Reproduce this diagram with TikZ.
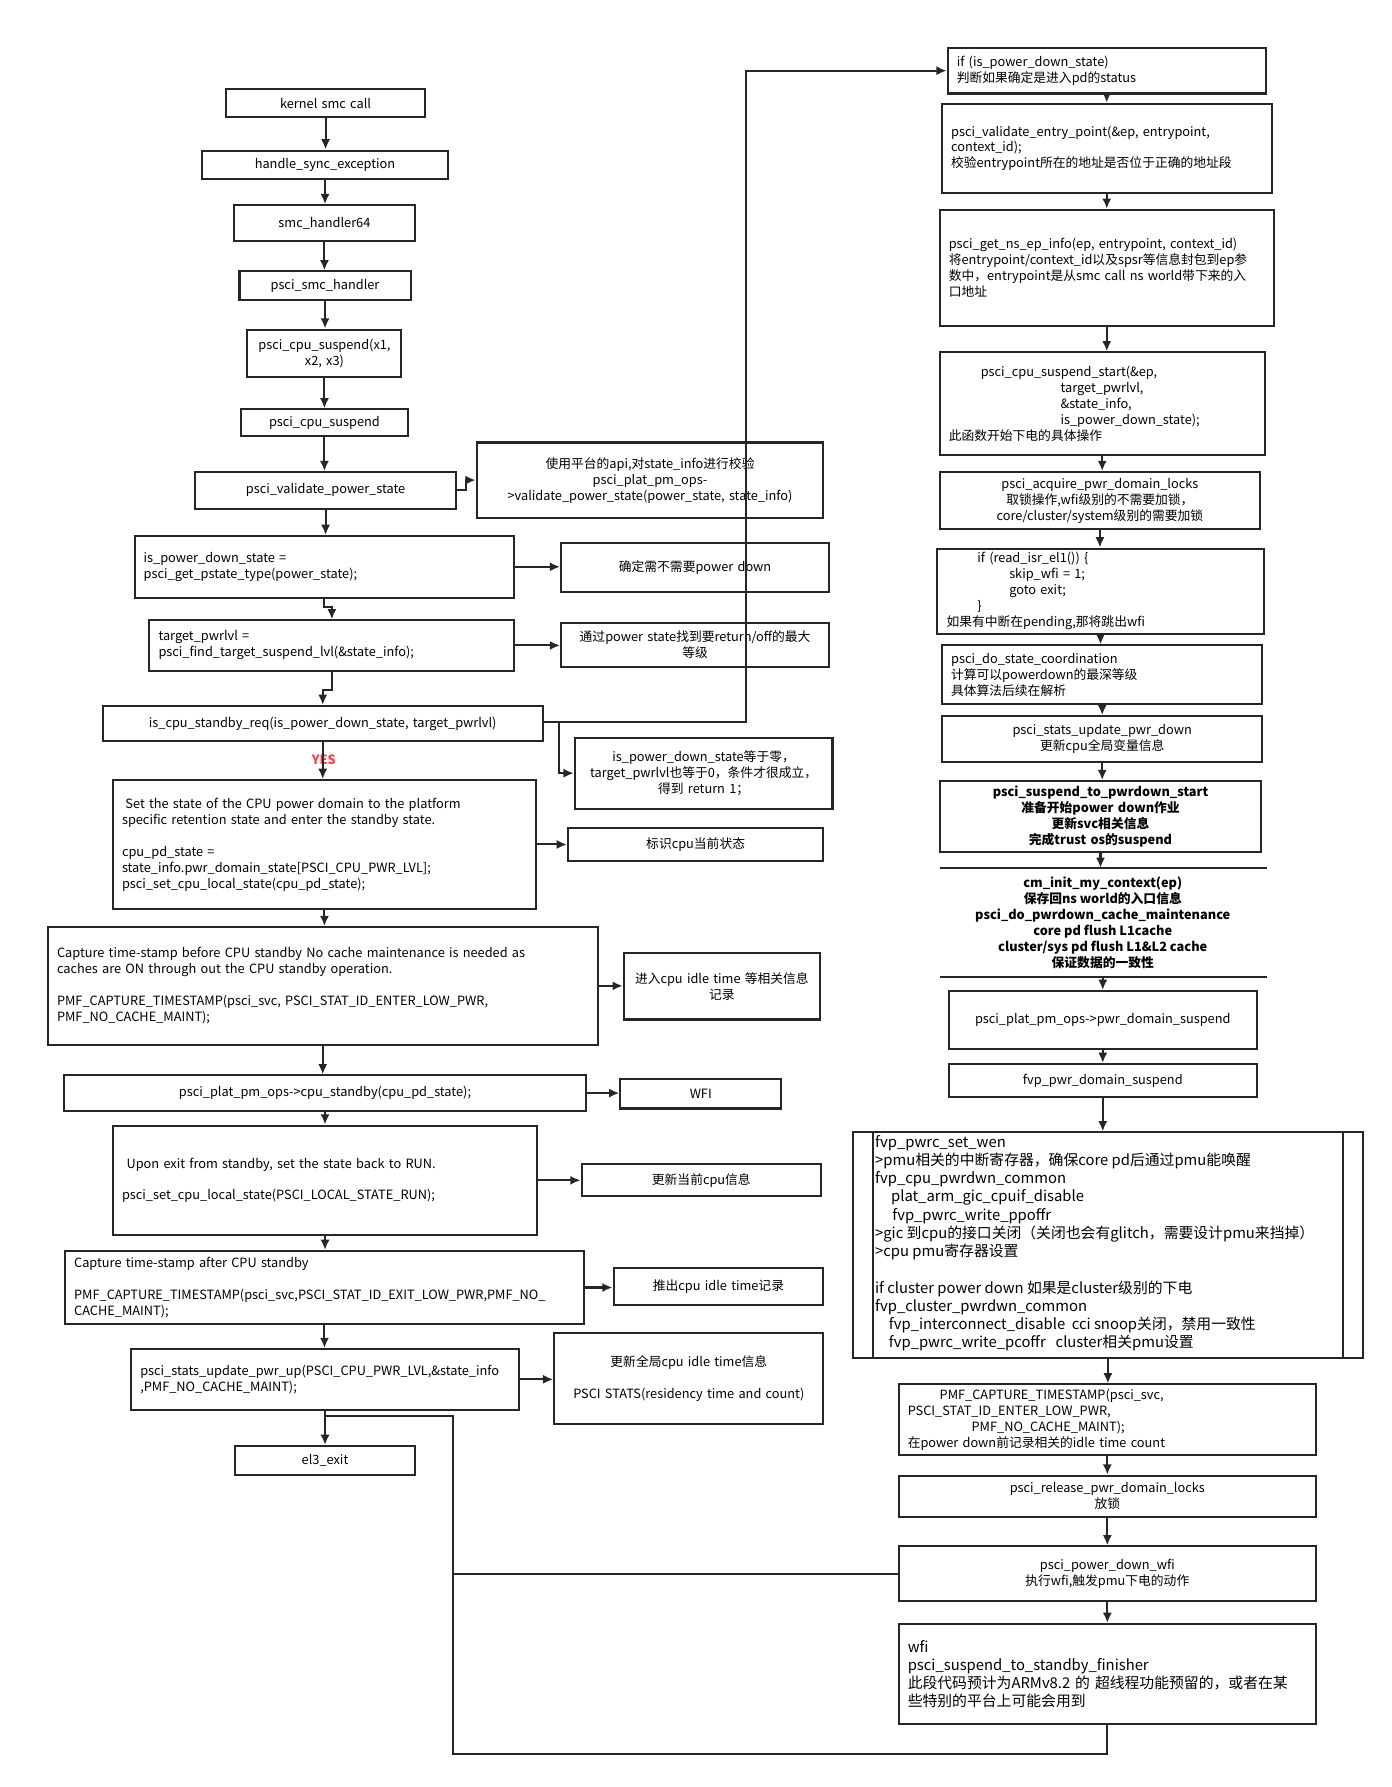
\documentclass[tikz,border=0pt]{standalone}
\usepackage{fontspec}
\setmainfont{Noto Sans CJK SC}
\usetikzlibrary{arrows.meta,calc}
\catcode`\_=12
\tikzset{
 box/.style={draw=black!85,line width=0.9pt,rectangle,inner xsep=4pt,inner ysep=1pt,font=\fontsize{5.6pt}{7pt}\selectfont},
 arr/.style={draw=black!85,line width=0.9pt,-{Latex[length=4.5pt,width=4pt]}},
 ln/.style={draw=black!85,line width=0.9pt},
}
\newcommand\mybox[7][center]{%
 \pgfmathsetmacro\tw{(#5-#3)*0.5-8}\pgfmathsetmacro\mh{(#6-#4)*0.5}\pgfmathsetmacro\mw{(#5-#3)*0.5}%
 \node[box,align=#1,text width=\tw pt,minimum height=\mh pt,minimum width=\mw pt] (#2) at ({(#3+#5)/2},{(#4+#6)/2}) {#7};}
\begin{document}
\begin{tikzpicture}[x=0.5pt,y=-0.5pt]
\useasboundingbox (0,0) rectangle (1220,1567);
% left column
\mybox{k1}{198}{78}{373}{103}{kernel smc call}
\mybox{k2}{177}{132}{393}{157}{handle_sync_exception}
\mybox{k3}{205}{180}{364}{211}{smc_handler64}
\mybox{k4}{210}{238}{360}{263}{psci_smc_handler}
\mybox{k5}{217}{289}{352}{331}{psci_cpu_suspend(x1,\\ x2, x3)}
\mybox{k6}{211}{359}{358}{382}{psci_cpu_suspend}
\mybox{k7}{171}{414}{400}{446}{psci_validate_power_state}
\mybox{s7}{418}{388}{722}{454}{使用平台的api,对state_info进行校验\\psci_plat_pm_ops-\\>validate_power_state(power_state, state_info)}
\mybox[left]{k9}{118}{470}{451}{524}{is_power_down_state =\\psci_get_pstate_type(power_state);}
\mybox{s9}{492}{476}{727}{519}{确定需不需要power down}
\mybox[left]{k10}{131}{544}{451}{588}{target_pwrlvl =\\psci_find_target_suspend_lvl(\&state_info);}
\mybox{s10}{492}{546}{727}{585}{通过power state找到要return/off的最大\\等级}
\mybox{k11}{90}{619}{476}{650}{is_cpu_standby_req(is_power_down_state, target_pwrlvl)}
\mybox{s11}{504}{647}{730}{709}{is_power_down_state等于零，\\target_pwrlvl也等于0，条件才很成立，\\得到 return 1；}
\node[text=red!75,font=\bfseries\fontsize{5.6pt}{7pt}\selectfont] (yes) at (284,666) {YES};
\mybox[left]{k12}{99}{684}{470}{797}{\hspace*{1.5pt}Set the state of the CPU power domain to the platform\\specific retention state and enter the standby state.\\[7pt]cpu_pd_state =\\state_info.pwr_domain_state[PSCI_CPU_PWR_LVL];\\psci_set_cpu_local_state(cpu_pd_state);}
\mybox{s12}{498}{726}{722}{755}{标识cpu当前状态}
\mybox[left]{k13}{42}{813}{524}{916}{Capture time-stamp before CPU standby No cache maintenance is needed as\\caches are ON through out the CPU standby operation.\\[7pt]PMF_CAPTURE_TIMESTAMP(psci_svc, PSCI_STAT_ID_ENTER_LOW_PWR,\\PMF_NO_CACHE_MAINT);}
\mybox{s13}{547}{836}{719}{894}{进入cpu idle time 等相关信息\\记录}
\mybox{k14}{56}{943}{514}{974}{psci_plat_pm_ops->cpu_standby(cpu_pd_state);}
\mybox{s14}{544}{946}{685}{972}{WFI}
\mybox[left]{k15}{99}{987}{471}{1083}{\hspace*{2pt}Upon exit from standby, set the state back to RUN.\\[7pt]psci_set_cpu_local_state(PSCI_LOCAL_STATE_RUN);}
\mybox{s15}{510}{1021}{720}{1049}{更新当前cpu信息}
\mybox[left]{k16}{57}{1097}{512}{1161}{Capture time-stamp after CPU standby\\[7pt]PMF_CAPTURE_TIMESTAMP(psci_svc,PSCI_STAT_ID_EXIT_LOW_PWR,PMF_NO_\\CACHE_MAINT);}
\mybox{s16}{538}{1112}{722}{1144}{推出cpu idle time记录}
\mybox[left]{k17}{115}{1183}{455}{1236}{psci_stats_update_pwr_up(PSCI_CPU_PWR_LVL,\&state_info\\,PMF_NO_CACHE_MAINT);}
\mybox{s17}{486}{1169}{722}{1249}{更新全局cpu idle time信息\\[7pt]PSCI STATS(residency time and count)}
\mybox{k18}{206}{1268}{364}{1293}{el3_exit}
% right column
\mybox[left]{r1}{831}{42}{1110}{82}{if (is_power_down_state)\\判断如果确定是进入pd的status}
\mybox[left]{r2}{826}{91}{1115}{169}{psci_validate_entry_point(\&ep, entrypoint,\\context_id);\\校验entrypoint所在的地址是否位于正确的地址段\\[14pt]}
\mybox[left]{r3}{824}{184}{1117}{286}{psci_get_ns_ep_info(ep, entrypoint, context_id)\\将entrypoint/context_id以及spsr等信息封包到ep参\\数中，entrypoint是从smc call ns world带下来的入\\口地址\\[35pt]}
\mybox[left]{r4}{824}{309}{1109}{399}{\hspace*{14pt}psci_cpu_suspend_start(\&ep,\\\hspace*{49pt}target_pwrlvl,\\\hspace*{49pt}\&state_info,\\\hspace*{49pt}is_power_down_state);\\此函数开始下电的具体操作\\[6pt]}
\mybox{r5}{824}{414}{1105}{464}{psci_acquire_pwr_domain_locks\\取锁操作,wfi级别的不需要加锁，\\core/cluster/system级别的需要加锁}
\mybox[left]{r6}{822}{481}{1108}{556}{\hspace*{13.5pt}if (read_isr_el1()) \{\\\hspace*{27.5pt}skip_wfi = 1;\\\hspace*{27.5pt}goto exit;\\\hspace*{13.5pt}\}\\如果有中断在pending,那将跳出wfi}
\mybox[left]{r7}{826}{566}{1107}{617}{psci_do_state_coordination\\计算可以powerdown的最深等级\\具体算法后续在解析}
\mybox{r8}{826}{628}{1107}{668}{psci_stats_update_pwr_down\\更新cpu全局变量信息}
\mybox{r9}{824}{685}{1106}{747}{\bfseries psci_suspend_to_pwrdown_start\\\bfseries 准备开始power down作业\\\bfseries 更新svc相关信息\\\bfseries 完成trust os的suspend}
\coordinate (la) at (824,761); \coordinate (lb) at (1111,761);
\coordinate (lc) at (824,857); \coordinate (ld) at (1111,857);
\draw[ln] (la) -- (lb); \draw[ln] (lc) -- (ld);
\node[font=\bfseries\fontsize{5.6pt}{7pt}\selectfont,align=center] (mid) at (967,809) {cm_init_my_context(ep)\\保存回ns world的入口信息\\psci_do_pwrdown_cache_maintenance\\core pd flush L1cache\\cluster/sys pd flush L1\&L2 cache\\保证数据的一致性};
\mybox{r10}{832}{869}{1102}{920}{psci_plat_pm_ops->pwr_domain_suspend}
\mybox{r11}{832}{933}{1102}{962}{fvp_pwr_domain_suspend}
\node[draw=black!85,line width=0.9pt,minimum width=223.5pt,minimum height=99pt,inner sep=0pt] (r12) at (971.5,1092) {};
\draw[ln] ([xshift=9pt]r12.north west) -- ([xshift=9pt]r12.south west);
\draw[ln] ([xshift=-9pt]r12.north east) -- ([xshift=-9pt]r12.south east);
\node[anchor=north west,inner sep=0pt,align=left,font=\fontsize{6.5pt}{8pt}\selectfont] (r12t) at (767,995) {fvp_pwrc_set_wen\\>pmu相关的中断寄存器，确保core pd后通过pmu能唤醒\\fvp_cpu_pwrdwn_common\\\hspace*{7pt}plat_arm_gic_cpuif_disable\\\hspace*{7.5pt}fvp_pwrc_write_ppoffr\\>gic 到cpu的接口关闭（关闭也会有glitch，需要设计pmu来挡掉）\\>cpu pmu寄存器设置\\[8pt]if cluster power down 如果是cluster级别的下电\\fvp_cluster_pwrdwn_common\\\hspace*{6pt}fvp_interconnect_disable\ \ cci snoop关闭，禁用一致性\\\hspace*{6pt}fvp_pwrc_write_pcoffr\ \ \ cluster相关pmu设置};
\mybox[left]{r13}{788}{1214}{1154}{1276}{\hspace*{14pt}PMF_CAPTURE_TIMESTAMP(psci_svc,\\PSCI_STAT_ID_ENTER_LOW_PWR,\\\hspace*{28pt}PMF_NO_CACHE_MAINT);\\在power down前记录相关的idle time count}
\mybox{r14}{788}{1294}{1154}{1330}{psci_release_pwr_domain_locks\\放锁}
\mybox{r15}{788}{1356}{1154}{1404}{psci_power_down_wfi\\执行wfi,触发pmu下电的动作}
\node[box,align=left,text width=175pt,minimum width=183pt,minimum height=44pt,font=\fontsize{6.5pt}{8pt}\selectfont] (r16) at (971,1468) {wfi\\psci_suspend_to_standby_finisher\\此段代码预计为ARMv8.2 的 超线程功能预留的，或者在某\\些特别的平台上可能会用到\\[8pt]};
% left connectors
\foreach \a/\b in {k1/k2,k2/k3,k3/k4,k4/k5,k5/k6,k6/k7,k7/k9,k11/k12,k12/k13,k13/k14,k14/k15,k15/k16,k16/k17,k17/k18}
  \draw[arr] (\a.south) -- (\a.south |- \b.north);
\draw[arr] (k9.south) -- ++(0,7) -| (k10.north);
\draw[arr] (k10.south) -- ++(0,16) -| (k11.north);
\draw[arr] (k7.east) -- ++(8,0) |- (s7.west);
\foreach \a/\b in {k9/s9,k10/s10,k12/s12,k13/s13,k14/s14,k15/s15,k16/s16,k17/s17}
  \draw[arr] (\a.east) -- (\a.east -| \b.west);
\coordinate (c1) at (654,633);
\draw[arr] (k11.east |- c1) -- (c1) |- (r1.west);
\coordinate (c2) at (490,633);
\draw[arr] (c2) |- (s11.west);
% loop
\coordinate (c3) at (285,1242); \coordinate (c4) at (397,1242);
\coordinate (c5) at (397,1538); \coordinate (c6) at (397,1380);
\draw[ln] (c3) -- (c4) -- (c5) -| (r16.south);
\draw[ln] (c6) -- (c6 -| r15.west);
% right connectors
\foreach \a/\b in {r1/r2,r2/r3,r3/r4,r4/r5,r5/r6,r6/r7,r7/r8,r8/r9,r10/r11,r11/r12,r12/r13,r13/r14,r14/r15,r15/r16}
  \draw[arr] (\a.south) -- (\a.south |- \b.north);
\draw[arr] (r9.south) -- (r9.south |- la);
\draw[arr] (r10.north |- lc) -- (r10.north);
\end{tikzpicture}
\end{document}
